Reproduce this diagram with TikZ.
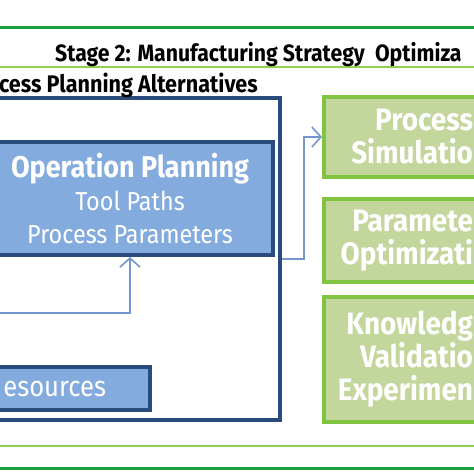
\documentclass[tikz,border=0pt]{standalone}
\usepackage{fontspec}
\setmainfont{Fira Sans}[FakeStretch=0.9]
\usetikzlibrary{arrows.meta}
\usetikzlibrary{positioning}
\definecolor{stage-green}{RGB}{26,160,62}
\definecolor{line-green}{RGB}{146,208,80}
\definecolor{box-green}{RGB}{195,214,155}
\definecolor{edge-green}{RGB}{128,196,66}
\definecolor{box-blue}{RGB}{132,171,222}
\definecolor{frame-blue}{RGB}{42,76,124}
\definecolor{arrow-blue}{RGB}{118,150,206}

\begin{document}
\begin{tikzpicture}[x=1pt, y=-1pt,
    bluebox/.style={draw=frame-blue, fill=box-blue, line width=4pt, text=white, inner sep=0pt},
    greenbox/.style={draw=edge-green, fill=box-green, line width=4pt, text=white, anchor=west,
        inner ysep=0pt, inner xsep=10pt, text width=139pt, align=right,
        font=\fontsize{31}{33}\selectfont\bfseries},
    flow/.style={draw=arrow-blue, line width=1.6pt, -{Straight Barb[length=9pt,width=20pt]}}]
\useasboundingbox (0,0) rectangle (474,474);
\clip (0,0) rectangle (474,474);
\fill[white] (0,0) rectangle (474,474);

% stage 2 frame
\draw[stage-green, line width=3pt] (-10,27) rectangle (484,468);
\draw[line-green, line width=2.5pt] (-10,67) rectangle (484,446);
\node[anchor=base west, inner sep=0pt, font=\fontsize{23.6}{28}\selectfont\bfseries] (stagetitle) at (55,61)
    {Stage 2: Manufacturing Strategy\ \ Optimiza};

% process planning alternatives
\node[draw=frame-blue, line width=4pt, minimum width=300pt, minimum height=322pt] (altframe) at (130,259) {};
\node[anchor=base east, inner sep=0pt, font=\fontsize{24}{26}\selectfont\bfseries] (alttitle) at (258,92)
    {cess Planning Alternatives};

\node[bluebox, align=center, minimum width=286pt, minimum height=113pt, font=\fontsize{26}{33}\selectfont] (opplan) at (130,198.5)
    {{\fontsize{30}{33}\selectfont\bfseries Operation Planning}\\Tool Paths\\Process Parameters};
\node[bluebox, anchor=east, inner xsep=44pt, minimum height=43pt, font=\fontsize{28.5}{32}\selectfont] (resources) at (152,388.5)
    {esources};

% evaluation boxes
\node[greenbox, minimum height=80pt] (procsim) at (322,137) {Process\\Simulatio};
\node[greenbox, minimum height=83pt] (paramopt) at (322,240.5) {Paramete\\Optimizati};
\node[greenbox, minimum height=125pt] (knowval) at (322,359.5) {Knowledg\\Validatio\\Experimen};

% connectors
\coordinate (feedin) at (-5,313);
\draw[flow] (feedin) -| (opplan.south);
\draw[flow] (altframe.east) -- ++(22,0) |- (procsim.west);

\end{tikzpicture}
\end{document}
